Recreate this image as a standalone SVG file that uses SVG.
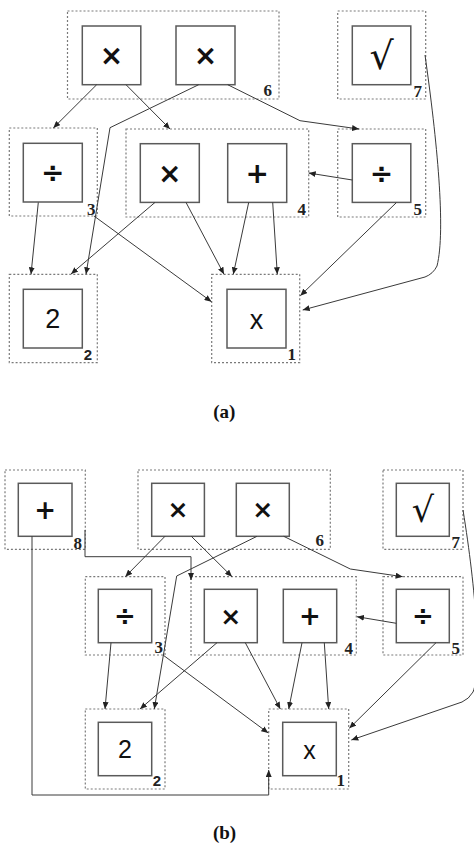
<svg xmlns="http://www.w3.org/2000/svg" width="474" height="847" viewBox="0 0 474 847">
<style>
.cl{fill:none;stroke:#7a7a7a;stroke-width:1.2;stroke-dasharray:2 2}
.bx{fill:#fff;stroke:#5a5a5a;stroke-width:1.5}
.sym{font-family:"DejaVu Sans",sans-serif;font-weight:bold;text-anchor:middle;dominant-baseline:central;fill:#111}
.lit{font-family:"Liberation Sans",Arial,sans-serif;text-anchor:middle;dominant-baseline:central;fill:#111}
.rad{font-family:"DejaVu Serif",serif;text-anchor:middle;dominant-baseline:central;fill:#111}
.lb{font-family:"Liberation Serif","Times New Roman",serif;font-weight:bold;font-size:17px;text-anchor:end;fill:#222}
.lbs{font-family:"Liberation Sans",Arial,sans-serif;font-weight:bold;font-size:15px;text-anchor:end;fill:#222}
.cap{font-family:"Liberation Serif","Times New Roman",serif;font-weight:bold;font-size:19px;text-anchor:middle;fill:#111}
.ed{fill:none;stroke:#3a3a3a;stroke-width:1;marker-end:url(#ah)}
</style>
<defs>
<marker id="ah" markerUnits="userSpaceOnUse" markerWidth="8" markerHeight="6" refX="7" refY="3" orient="auto">
<path d="M0,0 L7,3 L0,6 z" fill="#222"/>
</marker>
</defs>

<!-- (a) -->
<g id="a-c6"><rect class="cl" x="67.5" y="11" width="211.5" height="88"/>
<rect class="bx" x="82.3" y="26" width="58.5" height="58.7"/><text class="sym" x="111.5" y="55.5" font-size="28">×</text>
<rect class="bx" x="176" y="26" width="59" height="58.7"/><text class="sym" x="205.5" y="55.5" font-size="28">×</text>
<text class="lb" x="272" y="96">6</text></g>
<g id="a-c7"><rect class="cl" x="337.7" y="11" width="88" height="88"/>
<rect class="bx" x="352.3" y="26" width="58.5" height="58.7"/><text class="rad" x="381.5" y="55.5" font-size="38">√</text>
<text class="lb" x="422" y="97">7</text></g>
<g id="a-c3"><rect class="cl" x="9.3" y="128" width="88" height="88"/>
<rect class="bx" x="23.3" y="143.3" width="59" height="58.7"/><text class="sym" x="52.8" y="172.7" font-size="28">÷</text>
<text class="lb" x="95.5" y="215">3</text></g>
<g id="a-c4"><rect class="cl" x="126" y="129" width="182.7" height="88"/>
<rect class="bx" x="140.3" y="143.7" width="59" height="58.7"/><text class="sym" x="169.8" y="173" font-size="28">×</text>
<rect class="bx" x="227.7" y="143.7" width="59" height="58.7"/><text class="sym" x="257.2" y="173" font-size="28">+</text>
<text class="lb" x="306" y="215">4</text></g>
<g id="a-c5"><rect class="cl" x="337.7" y="129" width="88" height="88"/>
<rect class="bx" x="352.3" y="143.7" width="58.5" height="58.7"/><text class="sym" x="381.5" y="173" font-size="28">÷</text>
<text class="lb" x="422" y="215">5</text></g>
<g id="a-c2"><rect class="cl" x="9.3" y="274.3" width="88" height="88.3"/>
<rect class="bx" x="23.3" y="289.3" width="59" height="58.7"/><text class="lit" x="52.8" y="319" font-size="27">2</text>
<text class="lbs" x="92" y="360">2</text></g>
<g id="a-c1"><rect class="cl" x="211.7" y="274.3" width="88" height="88.3"/>
<rect class="bx" x="227" y="289.3" width="59" height="58.7"/><text class="lit" x="256.5" y="319.5" font-size="27">x</text>
<text class="lb" x="296" y="360">1</text></g>
<text class="cap" x="224.3" y="418">(a)</text>

<g id="a-edges">
<path class="ed" d="M96.7,84.7 L53.3,128"/>
<path class="ed" d="M126,84.7 L170,129"/>
<path class="ed" d="M198.7,84.7 L110,127.7 L86,274.3"/>
<path class="ed" d="M227.7,84.7 L300,120.7 L359,129"/>
<path class="ed" d="M352.3,180 L308.7,173"/>
<path class="ed" d="M425,55 C437,140 446,230 437,266 Q433,274 425,277 L302.7,310"/>
<path class="ed" d="M396.3,202.7 L300.3,295.7"/>
<path class="ed" d="M38.3,202.4 L31,274.3"/>
<path class="ed" d="M155,202.4 L71,274"/>
<path class="ed" d="M94,216 L211.5,301.7"/>
<path class="ed" d="M186,202.4 L224,274.3"/>
<path class="ed" d="M248.7,202.4 L233.3,274.3"/>
<path class="ed" d="M272.7,202.4 L277.3,274.3"/>
</g>

<!-- (b) -->
<g id="b-c8"><rect class="cl" x="5" y="470" width="80.3" height="79.3"/>
<rect class="bx" x="18.3" y="483.3" width="53.7" height="53"/><text class="sym" x="45.2" y="509.8" font-size="26">+</text>
<text class="lb" x="82" y="549">8</text></g>
<g id="b-c6"><rect class="cl" x="138" y="470" width="192.3" height="79.3"/>
<rect class="bx" x="151.7" y="483.3" width="52.7" height="53"/><text class="sym" x="178" y="509.8" font-size="25">×</text>
<rect class="bx" x="236.3" y="483.3" width="53" height="53"/><text class="sym" x="262.8" y="509.8" font-size="25">×</text>
<text class="lb" x="324" y="546">6</text></g>
<g id="b-c7"><rect class="cl" x="383" y="470" width="80" height="79.3"/>
<rect class="bx" x="396.3" y="483.3" width="53" height="53"/><text class="rad" x="422.8" y="509.8" font-size="35">√</text>
<text class="lb" x="460" y="548">7</text></g>
<g id="b-c3"><rect class="cl" x="85.3" y="576.7" width="79.7" height="78.3"/>
<rect class="bx" x="98.3" y="589.3" width="53.4" height="53.4"/><text class="sym" x="125" y="616" font-size="26">÷</text>
<text class="lb" x="163" y="653">3</text></g>
<g id="b-c4"><rect class="cl" x="191" y="576.7" width="165.3" height="78.3"/>
<rect class="bx" x="204.3" y="589.3" width="53" height="53.4"/><text class="sym" x="230.8" y="616" font-size="25">×</text>
<rect class="bx" x="283.3" y="589.3" width="53.4" height="53.4"/><text class="sym" x="310" y="616" font-size="26">+</text>
<text class="lb" x="353" y="654">4</text></g>
<g id="b-c5"><rect class="cl" x="383" y="576.7" width="80" height="78.3"/>
<rect class="bx" x="396.3" y="589.3" width="53" height="53.4"/><text class="sym" x="422.8" y="616" font-size="26">÷</text>
<text class="lb" x="460" y="654">5</text></g>
<g id="b-c2"><rect class="cl" x="85.3" y="709" width="79.7" height="80"/>
<rect class="bx" x="98.3" y="722.3" width="53.4" height="53.4"/><text class="lit" x="125" y="749" font-size="25">2</text>
<text class="lbs" x="161" y="786">2</text></g>
<g id="b-c1"><rect class="cl" x="268.7" y="709" width="80" height="80"/>
<rect class="bx" x="282.7" y="722.3" width="53.6" height="53.4"/><text class="lit" x="309.5" y="749.5" font-size="25">x</text>
<text class="lb" x="345" y="786">1</text></g>
<text class="cap" x="224.5" y="839">(b)</text>

<g id="b-edges">
<path class="ed" d="M165,536.3 L125.3,576.7"/>
<path class="ed" d="M191.3,536.3 L232,576.7"/>
<path class="ed" d="M257,536.3 L176.7,576 L154.3,709"/>
<path class="ed" d="M283.7,536.3 L350.3,569 L402.7,576.7"/>
<path class="ed" d="M396.3,623.3 L357,616.7"/>
<path class="ed" d="M463,510 C476,590 482,670 473,692 Q469,699 462,702 L351.3,740"/>
<path class="ed" d="M436,642.7 L349.3,728.3"/>
<path class="ed" d="M111,642.7 L105,709"/>
<path class="ed" d="M217,642.7 L140,709"/>
<path class="ed" d="M163,655 L268.3,733"/>
<path class="ed" d="M245.3,642.7 L280.3,709"/>
<path class="ed" d="M302,642.7 L288.7,709"/>
<path class="ed" d="M324.3,642.7 L328.7,709"/>
<path class="ed" d="M32,536.3 V795 H268.7 V770"/>
<path class="ed" d="M85,530 V556.7 H191 V580"/>
</g>
</svg>
